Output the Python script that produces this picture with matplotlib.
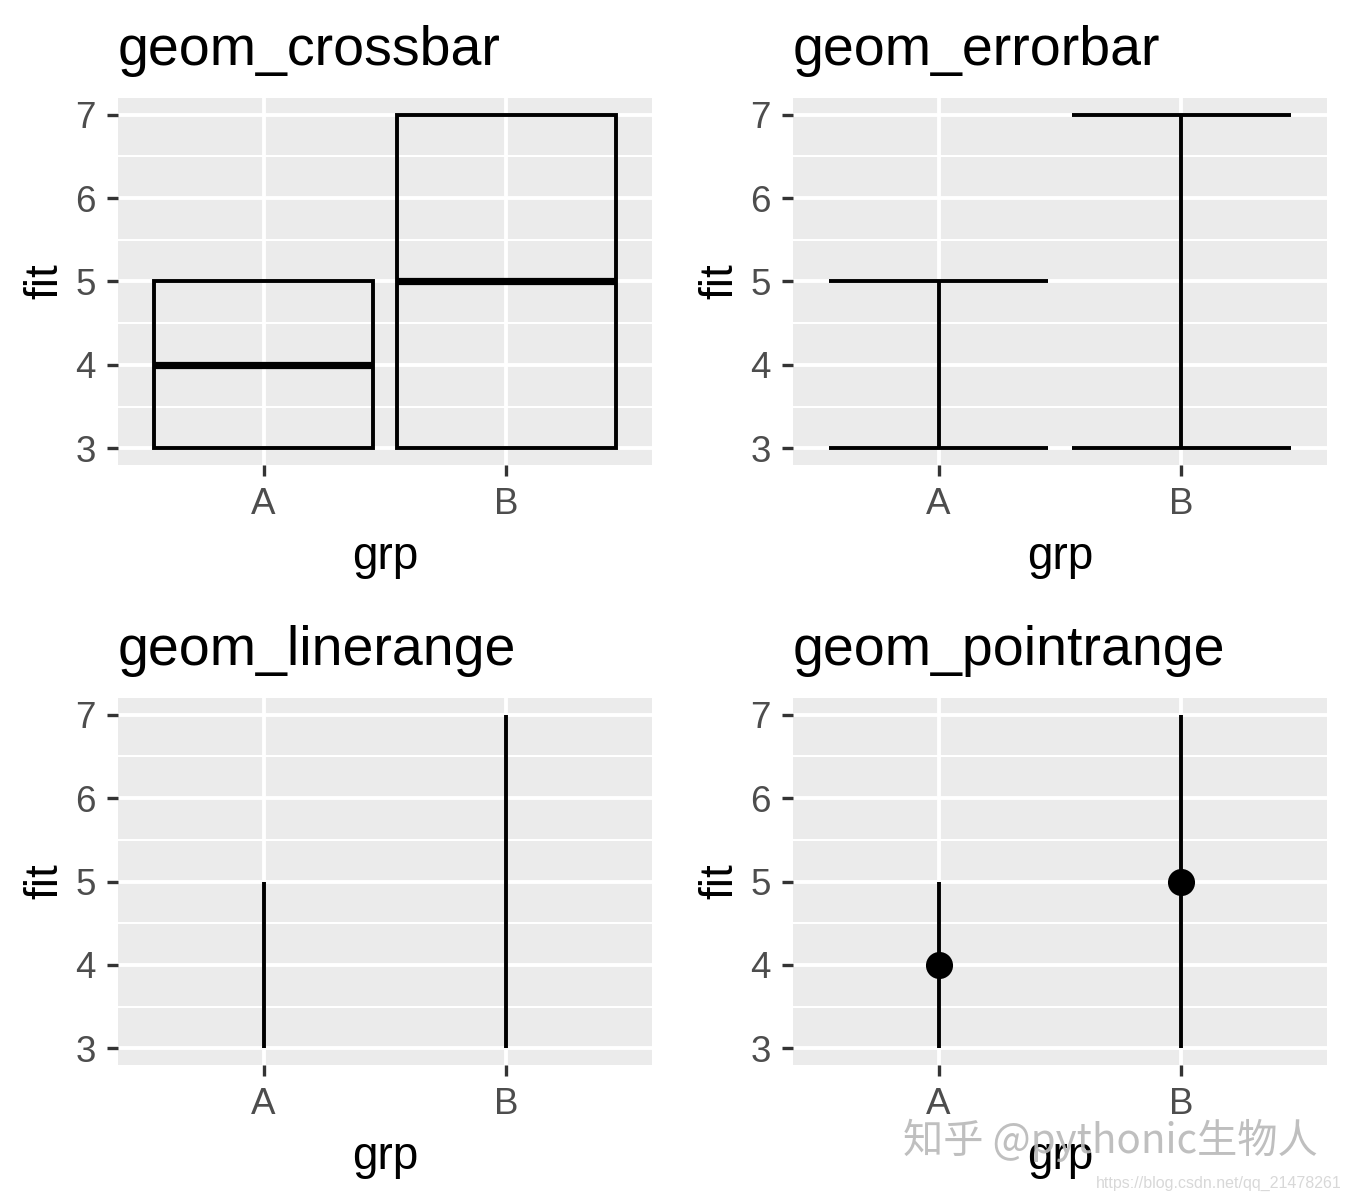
import matplotlib
matplotlib.use("Agg")
import matplotlib.pyplot as plt
from matplotlib.patches import Rectangle
from matplotlib.ticker import MultipleLocator, FixedLocator

plt.rcParams['font.family'] = ['Liberation Sans', 'DejaVu Sans']

grp = ['A', 'B']
fit = [4, 5]
lower = [3, 3]
upper = [5, 7]
titles = ['geom_crossbar', 'geom_errorbar', 'geom_linerange', 'geom_pointrange']
yticks = [3, 4, 5, 6, 7]

W, H = 1350, 1200
fig = plt.figure(figsize=(13.5, 12), dpi=100)

panel_px = [(118, 98), (793, 98), (118, 698), (793, 698)]
pw, ph = 534, 367
bw = 0.9
xpos = [1, 2]
LW = 2.8

for k, (px, py) in enumerate(panel_px):
    ax = fig.add_axes([px / W, 1 - (py + ph) / H, pw / W, ph / H])
    ax.set_facecolor('#EBEBEB')
    for s in ax.spines.values():
        s.set_visible(False)
    ax.set_xlim(0.4, 2.6)
    ax.set_ylim(2.8, 7.2)
    ax.xaxis.set_major_locator(FixedLocator(xpos))
    ax.set_xticklabels(grp)
    ax.yaxis.set_major_locator(FixedLocator(yticks))
    ax.yaxis.set_minor_locator(MultipleLocator(0.5))
    ax.grid(which='major', color='white', lw=2.8, zorder=0)
    ax.grid(which='minor', axis='y', color='white', lw=1.5, zorder=0)
    ax.set_axisbelow(True)
    ax.tick_params(which='major', length=8, width=2.4, color='#333333',
                   labelcolor='#4D4D4D', labelsize=26.5, pad=8)
    ax.tick_params(which='minor', length=0)
    ax.set_xlabel('grp', fontsize=33, color='black')
    ax.set_ylabel('fit', fontsize=33, color='black')
    ax.xaxis.set_label_coords(0.5, -0.19)
    ax.yaxis.set_label_coords(-0.0955, 0.5)
    ax.set_title(titles[k], loc='left', fontsize=40, pad=23.8, color='black')

    for i, x in enumerate(xpos):
        if k == 0:
            ax.add_patch(Rectangle((x - bw / 2, lower[i]), bw, upper[i] - lower[i],
                                   fill=False, edgecolor='black', lw=LW,
                                   joinstyle='miter', zorder=3))
            ax.plot([x - bw / 2, x + bw / 2], [fit[i], fit[i]], color='black',
                    lw=5.2, solid_capstyle='butt', zorder=4)
        elif k == 1:
            ax.plot([x, x], [lower[i], upper[i]], color='black', lw=LW,
                    solid_capstyle='butt', zorder=3)
            for yv in (lower[i], upper[i]):
                ax.plot([x - bw / 2, x + bw / 2], [yv, yv], color='black', lw=LW,
                        solid_capstyle='butt', zorder=3)
        elif k == 2:
            ax.plot([x, x], [lower[i], upper[i]], color='black', lw=LW,
                    solid_capstyle='butt', zorder=3)
        else:
            ax.plot([x, x], [lower[i], upper[i]], color='black', lw=LW,
                    solid_capstyle='butt', zorder=3)
            ax.plot([x], [fit[i]], 'o', color='black', markersize=19.5,
                    markeredgewidth=0, zorder=4)

fig.text(903 / W, 1 - 1140 / H, '知乎 @pythonic生物人', fontsize=29,
         color='#B8B8B8', alpha=0.9, va='center', ha='left',
         family=['Noto Sans CJK SC', 'DejaVu Sans'], zorder=10)
fig.text(1342 / W, 1 - 1183 / H, 'https://blog.csdn.net/qq_21478261', fontsize=11.5,
         color='#D8D8D8', va='center', ha='right', zorder=10)

fig.savefig('out.png', dpi=100, facecolor='white')
